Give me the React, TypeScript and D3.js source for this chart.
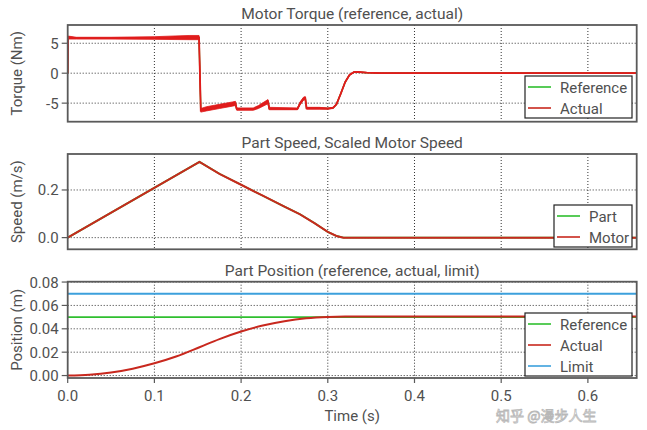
import React from "react";
import * as d3 from "d3";

// ---- data ----
const X_TICKS = [0, 0.1, 0.2, 0.3, 0.4, 0.5, 0.6];
const X_TICK_LABELS = ["0.0", "0.1", "0.2", "0.3", "0.4", "0.5", "0.6"];

// Motor torque: time, lower and upper envelope of the noisy trace (Nm)
const torqueT = [0, 0.0005, 0.01, 0.05, 0.1, 0.14, 0.1515, 0.1535, 0.16, 0.175, 0.19, 0.1935, 0.195, 0.214, 0.22, 0.231, 0.2325, 0.265, 0.268, 0.272, 0.274, 0.2755, 0.29, 0.3, 0.306, 0.31, 0.315, 0.32, 0.325, 0.33, 0.335, 0.345, 0.36, 0.6563];
const torqueLo = [0, 5.7, 5.7, 5.7, 5.65, 5.6, 5.6, -6.5, -6.3, -5.9, -5.5, -5.4, -6.2, -6.2, -5.9, -5.1, -6.1, -6.1, -5.3, -4.5, -4.4, -6.0, -6.0, -6.0, -5.9, -5.3, -3.5, -1.6, -0.4, 0.1, 0.15, 0.05, 0.0, 0.0];
const torqueHi = [0, 6.2, 6.0, 6.0, 6.1, 6.3, 6.3, -5.9, -5.6, -5.2, -4.8, -4.7, -5.8, -5.8, -5.4, -4.4, -5.7, -5.8, -4.8, -4.0, -3.9, -5.7, -5.7, -5.8, -5.7, -5.1, -3.3, -1.4, -0.2, 0.25, 0.25, 0.12, 0.05, 0.05];
const TORQUE_TICKS = [-5, 0, 5];
const TORQUE_TICK_LABELS = ["-5", "0", "5"];

// Part speed and scaled motor speed (m/s)
const speedT = [0, 0.152, 0.175, 0.2, 0.225, 0.25, 0.268, 0.285, 0.3, 0.31, 0.318, 0.6563];
const partSpeed = [0, 0.318, 0.268, 0.222, 0.176, 0.13, 0.098, 0.06, 0.024, 0.007, 0, 0];
const motorSpeed = [0, 0.318, 0.268, 0.222, 0.176, 0.13, 0.098, 0.06, 0.024, 0.007, 0, 0];
const SPEED_TICKS = [0, 0.2];
const SPEED_TICK_LABELS = ["0.0", "0.2"];

// Part position (m)
const posT = [0, 0.025, 0.05, 0.075, 0.1, 0.125, 0.152, 0.175, 0.2, 0.225, 0.25, 0.275, 0.3, 0.32, 0.6563];
const posActual = [0, 0.0007, 0.0026, 0.0059, 0.0105, 0.0163, 0.0242, 0.0312, 0.0377, 0.0428, 0.0465, 0.049, 0.0502, 0.0505, 0.0505];
const posReference = [0.05, 0.05];
const posLimit = [0.07, 0.07];
const POS_TICKS = [0, 0.02, 0.04, 0.06, 0.08];
const POS_TICK_LABELS = ["0.00", "0.02", "0.04", "0.06", "0.08"];

const FONT = "Roboto, 'DejaVu Sans', sans-serif";
const TEXT = "#505050";
const FRAME = "#5a5a5a";
const RED = "#e01c1c";
const RED2 = "#c8281e";
const GREEN = "#2fbf2f";
const BLUE = "#3ca0dc";

const X0 = 67.7;
const X1 = 636.7;

type Tick = { v: number; label: string };

function Panel(props: {
  top: number;
  bottom: number;
  domain: [number, number];
  yTicks: Tick[];
  title: string;
  yLabel: string;
  showX: boolean;
  children: (y: d3.ScaleLinear<number, number>) => React.ReactNode;
  legend: { x: number; y: number; w: number; items: { label: string; color: string }[] };
}) {
  const x = d3.scaleLinear().domain([0, 0.6563]).range([X0, X1]);
  const y = d3.scaleLinear().domain(props.domain).range([props.bottom, props.top]);
  const clipId = "clip" + Math.round(props.top);
  const lg = props.legend;
  const rowH = 21;
  return (
    <g>
      <defs>
        <clipPath id={clipId}>
          <rect x={X0} y={props.top} width={X1 - X0} height={props.bottom - props.top} />
        </clipPath>
      </defs>
      <text x={(X0 + X1) / 2} y={props.top - 6} textAnchor="middle" fontSize={15.5} fill={TEXT} fontFamily={FONT}>
        {props.title}
      </text>
      {/* grid */}
      {X_TICKS.slice(1).map((t) => (
        <line key={"gx" + t} x1={x(t)} x2={x(t)} y1={props.top} y2={props.bottom} stroke="#333" strokeWidth={1} strokeDasharray="1,2" />
      ))}
      {props.yTicks.map((t) => (
        <line key={"gy" + t.v} x1={X0} x2={X1} y1={y(t.v)} y2={y(t.v)} stroke="#333" strokeWidth={1} strokeDasharray="1,2" />
      ))}
      <g clipPath={`url(#${clipId})`}>{props.children(y)}</g>
      {/* frame */}
      <rect x={X0} y={props.top} width={X1 - X0} height={props.bottom - props.top} fill="none" stroke={FRAME} strokeWidth={1.8} />
      {/* y ticks */}
      {props.yTicks.map((t) => (
        <g key={"ty" + t.v}>
          <line x1={X0 - 6} x2={X0} y1={y(t.v)} y2={y(t.v)} stroke={FRAME} strokeWidth={1.2} />
          <text x={X0 - 9} y={y(t.v) + 5.5} textAnchor="end" fontSize={15} fill={TEXT} fontFamily={FONT}>
            {t.label}
          </text>
        </g>
      ))}
      <text
        transform={`translate(22,${(props.top + props.bottom) / 2}) rotate(-90)`}
        textAnchor="middle"
        fontSize={15}
        fill={TEXT}
        fontFamily={FONT}
      >
        {props.yLabel}
      </text>
      {props.showX &&
        X_TICKS.map((t, i) => (
          <g key={"tx" + t}>
            <line x1={x(t)} x2={x(t)} y1={props.bottom} y2={props.bottom + 5} stroke={FRAME} strokeWidth={1.2} />
            <text x={x(t)} y={props.bottom + 23} textAnchor="middle" fontSize={15} fill={TEXT} fontFamily={FONT}>
              {X_TICK_LABELS[i]}
            </text>
          </g>
        ))}
      {/* legend */}
      <rect x={lg.x} y={lg.y} width={lg.w} height={lg.items.length * rowH + 0} fill="#fff" stroke="#222" strokeWidth={1.2} />
      {lg.items.map((it, i) => {
        const cy = lg.y + 11 + i * rowH;
        return (
          <g key={it.label}>
            <line x1={lg.x + 3} x2={lg.x + 26} y1={cy} y2={cy} stroke={it.color} strokeWidth={1.6} />
            <text x={lg.x + 35} y={cy + 5.5} fontSize={15} fill={TEXT} fontFamily={FONT}>
              {it.label}
            </text>
          </g>
        );
      })}
    </g>
  );
}

export default function App() {
  const x = d3.scaleLinear().domain([0, 0.6563]).range([X0, X1]);
  const idx = (arr: number[]) => arr.map((_, i) => i);

  return (
    <svg width={647} height={430} style={{ position: "absolute", left: 0, top: 0, background: "#fff" }}>
      <rect width={647} height={430} fill="#fff" />
      <Panel
        top={25}
        bottom={121.7}
        domain={[-8.1, 8.05]}
        yTicks={TORQUE_TICKS.map((v, i) => ({ v, label: TORQUE_TICK_LABELS[i] }))}
        title="Motor Torque (reference, actual)"
        yLabel="Torque (Nm)"
        showX={false}
        legend={{ x: 525, y: 76, w: 107, items: [{ label: "Reference", color: GREEN }, { label: "Actual", color: RED2 }] }}
      >
        {(y) => {
          const area = d3
            .area<number>()
            .x((i) => x(torqueT[i]))
            .y0((i) => y(torqueLo[i]))
            .y1((i) => y(torqueHi[i]));
          const mid = d3
            .line<number>()
            .x((i) => x(torqueT[i]))
            .y((i) => y((torqueLo[i] + torqueHi[i]) / 2));
          const ids = idx(torqueT);
          return (
            <g>
              <path d={mid(ids) || ""} fill="none" stroke={GREEN} strokeWidth={1.5} />
              <path d={area(ids) || ""} fill={RED} stroke={RED} strokeWidth={0.8} />
              <path d={mid(ids) || ""} fill="none" stroke={RED} strokeWidth={1.8} />
            </g>
          );
        }}
      </Panel>
      <Panel
        top={154}
        bottom={249.3}
        domain={[-0.049, 0.351]}
        yTicks={SPEED_TICKS.map((v, i) => ({ v, label: SPEED_TICK_LABELS[i] }))}
        title="Part Speed, Scaled Motor Speed"
        yLabel="Speed (m/s)"
        showX={false}
        legend={{ x: 554, y: 205, w: 78, items: [{ label: "Part", color: GREEN }, { label: "Motor", color: RED2 }] }}
      >
        {(y) => {
          const ids = idx(speedT);
          const part = d3.line<number>().x((i) => x(speedT[i])).y((i) => y(partSpeed[i]));
          const motor = d3.line<number>().x((i) => x(speedT[i])).y((i) => y(motorSpeed[i]));
          return (
            <g>
              <path d={part(ids) || ""} fill="none" stroke={GREEN} strokeWidth={1.8} />
              <path d={motor(ids) || ""} fill="none" stroke={RED2} strokeWidth={2} />
            </g>
          );
        }}
      </Panel>
      <Panel
        top={281.7}
        bottom={378}
        domain={[-0.0021, 0.0803]}
        yTicks={POS_TICKS.map((v, i) => ({ v, label: POS_TICK_LABELS[i] }))}
        title="Part Position (reference, actual, limit)"
        yLabel="Position (m)"
        showX={true}
        legend={{
          x: 525,
          y: 313,
          w: 107,
          items: [
            { label: "Reference", color: GREEN },
            { label: "Actual", color: RED2 },
            { label: "Limit", color: BLUE },
          ],
        }}
      >
        {(y) => {
          const ids = idx(posT);
          const actual = d3.line<number>().x((i) => x(posT[i])).y((i) => y(posActual[i])).curve(d3.curveMonotoneX);
          const flat = (vals: number[]) =>
            d3.line<number>().x((i) => x(i === 0 ? 0 : 0.6563)).y((i) => y(vals[i]))([0, 1]) || "";
          return (
            <g>
              <path d={flat(posLimit)} fill="none" stroke={BLUE} strokeWidth={1.8} />
              <path d={flat(posReference)} fill="none" stroke={GREEN} strokeWidth={1.8} />
              <path d={actual(ids) || ""} fill="none" stroke={RED2} strokeWidth={2} />
            </g>
          );
        }}
      </Panel>
      <text x={(X0 + X1) / 2} y={421} textAnchor="middle" fontSize={15} fill={TEXT} fontFamily={FONT}>
        Time (s)
      </text>
      <text
        x={496}
        y={421}
        fontSize={14}
        fill="rgba(255,255,255,0.75)"
        stroke="#b8b8b8"
        strokeWidth={0.8}
        fontFamily="'Noto Sans CJK SC', sans-serif"
      >
        知乎 @漫步人生
      </text>
    </svg>
  );
}
